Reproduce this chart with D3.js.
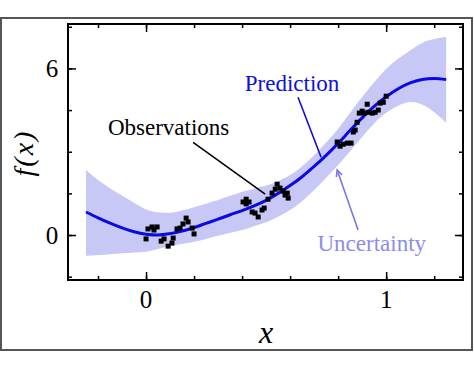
<!DOCTYPE html>
<html>
<head>
<meta charset="utf-8">
<script src="https://cdn.jsdelivr.net/npm/d3@7"></script>
<style>
  body { margin: 0; background: #fff; }
</style>
</head>
<body>
<script>
// GP regression sketch: posterior mean, uncertainty band and noisy observations
const gridX = [-0.25, -0.2, -0.15, -0.1, -0.05, 0, 0.05, 0.1, 0.15, 0.2, 0.25, 0.3, 0.35, 0.4, 0.45,
    0.5, 0.55, 0.6, 0.65, 0.7, 0.75, 0.8, 0.85, 0.9, 0.95, 1.0, 1.05, 1.1, 1.15, 1.2, 1.25];

const meanY = [0.83, 0.62, 0.43, 0.26, 0.12, 0.03, 0.0, 0.05, 0.14, 0.27, 0.42, 0.57, 0.73, 0.88, 1.05,
    1.25, 1.5, 1.78, 2.1, 2.47, 2.87, 3.3, 3.77, 4.22, 4.63, 4.98, 5.27, 5.48, 5.6, 5.64, 5.6];

const upperY = [2.34, 1.98, 1.68, 1.42, 1.16, 0.92, 0.82, 0.8, 0.88, 1.0, 1.13, 1.26, 1.41, 1.56, 1.67,
    1.78, 1.94, 2.16, 2.48, 2.87, 3.33, 3.83, 4.4, 4.97, 5.5, 5.98, 6.35, 6.65, 6.92, 7.06, 7.13];

const lowerY = [-0.75, -0.72, -0.69, -0.66, -0.63, -0.6, -0.5, -0.4, -0.32, -0.24, -0.14, -0.03, 0.08, 0.18, 0.32,
    0.46, 0.66, 0.9, 1.22, 1.62, 2.06, 2.52, 3.02, 3.53, 4.02, 4.4, 4.66, 4.79, 4.7, 4.42, 4.04];

const obsX = [0.0, 0.008, 0.025, 0.033, 0.046, 0.063, 0.075, 0.092, 0.108, 0.113, 0.129, 0.142, 0.154, 0.167, 0.175, 0.192, 0.2,
    0.404, 0.417, 0.417, 0.429, 0.442, 0.454, 0.467, 0.483, 0.492, 0.508, 0.525, 0.546, 0.538, 0.558, 0.571, 0.588, 0.592, 0.579,
    0.796, 0.808, 0.821, 0.838, 0.854, 0.863, 0.871, 0.879, 0.888, 0.9, 0.908, 0.921, 0.925, 0.942, 0.954, 0.967, 0.975, 0.988, 1.0];

const obsY = [-0.14, 0.22, 0.29, 0.18, 0.29, -0.22, -0.14, -0.4, -0.29, -0.11, 0.22, 0.25, 0.4, 0.61, 0.47, 0.25, 0.04,
    1.19, 1.29, 1.12, 1.19, 0.83, 0.79, 0.65, 0.9, 0.97, 1.29, 1.51, 1.83, 1.65, 1.69, 1.58, 1.51, 1.33, 1.44,
    3.35, 3.2, 3.27, 3.31, 3.31, 3.71, 3.78, 4.06, 4.39, 4.46, 4.39, 4.71, 4.42, 4.39, 4.42, 4.5, 4.75, 4.78, 5.0];

const xTickLabels = [0, 1];
const yTickLabels = [0, 6];

const serif = '"Liberation Serif", "DejaVu Serif", serif';
const width = 474, height = 370;
const plot = { left: 68, right: 463, top: 24, bottom: 280 };

const svg = d3.select('body')
    .append('svg')
    .attr('width', width)
    .attr('height', height);

// outer frame of the figure
svg.append('rect')
    .attr('x', 1).attr('y', 18)
    .attr('width', 471).attr('height', 332)
    .attr('fill', 'none')
    .attr('stroke', '#555')
    .attr('stroke-width', 2);

const x = d3.scaleLinear().domain([-0.325, 1.32]).range([plot.left, plot.right]);
const y = d3.scaleLinear().domain([-1.62, 7.6]).range([plot.bottom, plot.top]);

svg.append('clipPath').attr('id', 'clip')
    .append('rect')
    .attr('x', plot.left).attr('y', plot.top)
    .attr('width', plot.right - plot.left).attr('height', plot.bottom - plot.top);

const g = svg.append('g').attr('clip-path', 'url(#clip)');

const band = d3.area()
    .x((d, i) => x(gridX[i]))
    .y0((d, i) => y(lowerY[i]))
    .y1((d, i) => y(upperY[i]))
    .curve(d3.curveMonotoneX);

g.append('path')
    .datum(gridX)
    .attr('d', band)
    .attr('fill', '#c8c8f6');

const line = d3.line()
    .x((d, i) => x(gridX[i]))
    .y((d, i) => y(meanY[i]))
    .curve(d3.curveMonotoneX);

g.append('path')
    .datum(gridX)
    .attr('d', line)
    .attr('fill', 'none')
    .attr('stroke', '#0a0ae6')
    .attr('stroke-width', 3);

const s = 5;
g.selectAll('rect.obs')
    .data(obsX)
    .enter()
    .append('rect')
    .attr('class', 'obs')
    .attr('x', (d, i) => x(d) - s / 2)
    .attr('y', (d, i) => y(obsY[i]) - s / 2)
    .attr('width', s)
    .attr('height', s)
    .attr('fill', '#000');

// axes: ticks pointing inward on all four sides
const xMinor = d3.range(-0.2, 1.21, 0.2).map(v => +v.toFixed(2));
const yMinor = d3.range(-1.5, 7.51, 1.5).map(v => +v.toFixed(2));

function styleAxis(sel) {
    sel.select('.domain').remove();
    sel.selectAll('line').attr('stroke', '#000').attr('stroke-width', 1.5);
    sel.selectAll('text').remove();
}

svg.append('g').attr('transform', `translate(0,${plot.bottom})`)
    .call(d3.axisTop(x).tickValues(xMinor).tickSize(4)).call(styleAxis);
svg.append('g').attr('transform', `translate(0,${plot.top})`)
    .call(d3.axisBottom(x).tickValues(xMinor).tickSize(4)).call(styleAxis);
svg.append('g').attr('transform', `translate(0,${plot.bottom})`)
    .call(d3.axisTop(x).tickValues(xTickLabels).tickSize(8)).call(styleAxis);
svg.append('g').attr('transform', `translate(0,${plot.top})`)
    .call(d3.axisBottom(x).tickValues(xTickLabels).tickSize(8)).call(styleAxis);

svg.append('g').attr('transform', `translate(${plot.left},0)`)
    .call(d3.axisRight(y).tickValues(yMinor).tickSize(4)).call(styleAxis);
svg.append('g').attr('transform', `translate(${plot.right},0)`)
    .call(d3.axisLeft(y).tickValues(yMinor).tickSize(4)).call(styleAxis);
svg.append('g').attr('transform', `translate(${plot.left},0)`)
    .call(d3.axisRight(y).tickValues(yTickLabels).tickSize(8)).call(styleAxis);
svg.append('g').attr('transform', `translate(${plot.right},0)`)
    .call(d3.axisLeft(y).tickValues(yTickLabels).tickSize(8)).call(styleAxis);

svg.append('rect')
    .attr('x', plot.left).attr('y', plot.top)
    .attr('width', plot.right - plot.left).attr('height', plot.bottom - plot.top)
    .attr('fill', 'none')
    .attr('stroke', '#000')
    .attr('stroke-width', 2);

// tick labels
svg.selectAll('text.xt')
    .data(xTickLabels)
    .enter()
    .append('text')
    .attr('x', d => x(d))
    .attr('y', 308)
    .attr('text-anchor', 'middle')
    .attr('font-family', serif)
    .attr('font-size', 25)
    .text(d => d);

svg.selectAll('text.yt')
    .data(yTickLabels)
    .enter()
    .append('text')
    .attr('x', 52)
    .attr('y', d => y(d) + 9)
    .attr('text-anchor', 'middle')
    .attr('font-family', serif)
    .attr('font-size', 25)
    .text(d => d);

// axis titles
svg.append('text')
    .attr('x', x(0.5))
    .attr('y', 343)
    .attr('text-anchor', 'middle')
    .attr('font-family', serif)
    .attr('font-size', 32)
    .attr('font-style', 'italic')
    .text('x');

svg.append('text')
    .attr('transform', 'translate(33,153) rotate(-90)')
    .attr('text-anchor', 'middle')
    .attr('font-family', serif)
    .attr('font-size', 28)
    .attr('font-style', 'italic')
    .attr('letter-spacing', 2)
    .text('f(x)');

// annotations
const notes = [
    { label: 'Prediction', tx: 0.608, ty: 5.19, x1: 0.633, y1: 4.96, x2: 0.729, y2: 2.8, color: '#1010dd', lineColor: '#1010cc', head: false },
    { label: 'Observations', tx: 0.094, ty: 3.59, x1: 0.196, y1: 3.34, x2: 0.496, y2: 1.47, color: '#000', lineColor: '#000', head: false },
    { label: 'Uncertainty', tx: 0.94, ty: -0.57, x1: 0.883, y1: 0.18, x2: 0.796, y2: 2.34, color: '#8c8cee', lineColor: '#7777e8', head: true }
];

notes.forEach(n => {
    svg.append('text')
        .attr('x', x(n.tx))
        .attr('y', y(n.ty))
        .attr('text-anchor', 'middle')
        .attr('font-family', serif)
        .attr('font-size', 23)
        .attr('fill', n.color)
        .text(n.label);

    svg.append('line')
        .attr('x1', x(n.x1)).attr('y1', y(n.y1))
        .attr('x2', x(n.x2)).attr('y2', y(n.y2))
        .attr('stroke', n.lineColor)
        .attr('stroke-width', 1.6);

    if (n.head) {
        const ang = Math.atan2(y(n.y2) - y(n.y1), x(n.x2) - x(n.x1));
        const hx = x(n.x2), hy = y(n.y2);
        const len = 7, spread = 0.45;
        svg.append('path')
            .attr('d', d3.line()([
                [hx - len * Math.cos(ang - spread), hy - len * Math.sin(ang - spread)],
                [hx, hy],
                [hx - len * Math.cos(ang + spread), hy - len * Math.sin(ang + spread)]
            ]))
            .attr('fill', 'none')
            .attr('stroke', n.lineColor)
            .attr('stroke-width', 1.6);
    }
});
</script>
</body>
</html>
